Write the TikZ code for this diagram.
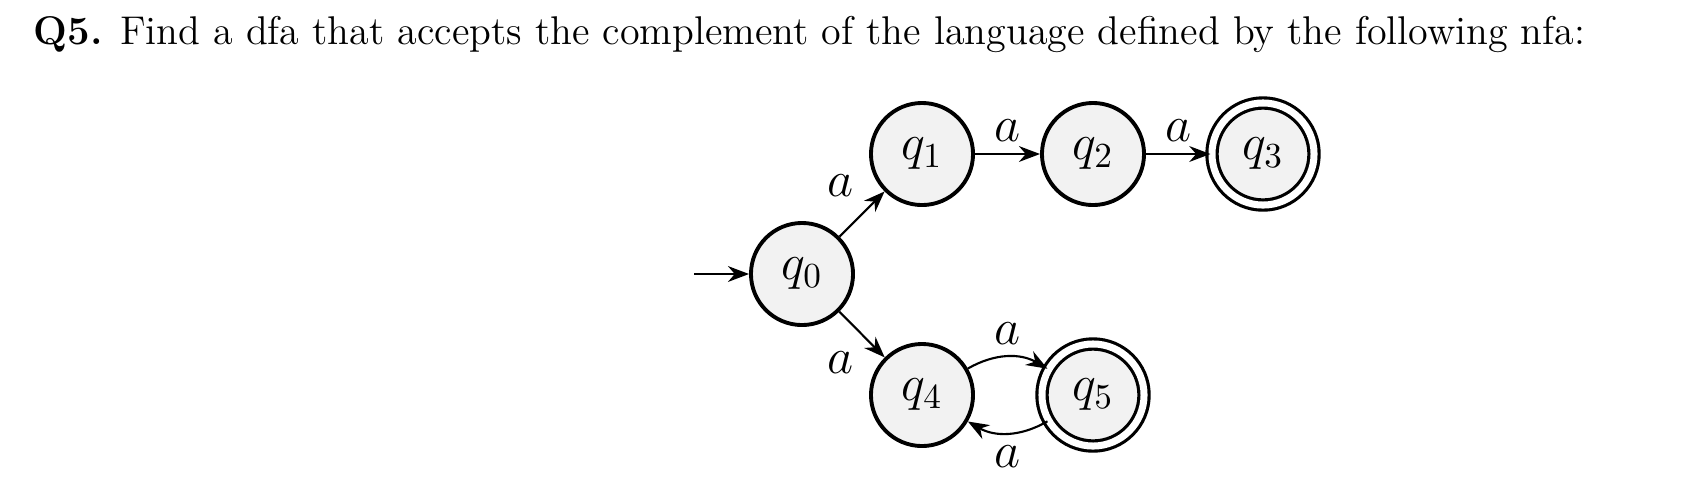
\documentclass[tikz,border=0pt]{standalone}
\usetikzlibrary{arrows.meta}
\begin{document}
\begin{tikzpicture}[x=0.01cm,y=-0.01cm,
  st/.style={circle,draw,line width=1.1pt,fill=gray!10,minimum size=1.02cm,inner sep=0pt,font=\Large},
  acc/.style={st,double,double distance=2pt,line width=0.9pt},
  tr/.style={-{Stealth[length=6pt]},line width=0.6pt},
  lb/.style={font=\Large}]
\useasboundingbox (0,0) rectangle (1700,490);
\node[anchor=west,inner sep=0pt,font=\fontsize{11.4}{14}\selectfont] (title) at (33,34) {\textbf{Q5.} Find a dfa that accepts the complement of the language defined by the following nfa:};
\node[st] (q0) at (802,274) {$q_0$};
\node[st] (q1) at (922,154) {$q_1$};
\node[st] (q2) at (1093,154) {$q_2$};
\node[acc] (q3) at (1263,154) {$q_3$};
\node[st] (q4) at (922,395) {$q_4$};
\node[acc] (q5) at (1093,395) {$q_5$};
\coordinate (start) at (694,274);
\draw[tr] (start) -- (q0);
\draw[tr] (q0) -- node[lb,above left,pos=0.6] {$a$} (q1);
\draw[tr] (q0) -- node[lb,below left,pos=0.6] {$a$} (q4);
\draw[tr] (q1) -- node[lb,above] {$a$} (q2);
\draw[tr] (q2) -- node[lb,above] {$a$} (q3);
\draw[tr] (q4) to[bend left=30] node[lb,above] {$a$} (q5);
\draw[tr] (q5) to[bend left=30] node[lb,below] {$a$} (q4);
\end{tikzpicture}
\end{document}
